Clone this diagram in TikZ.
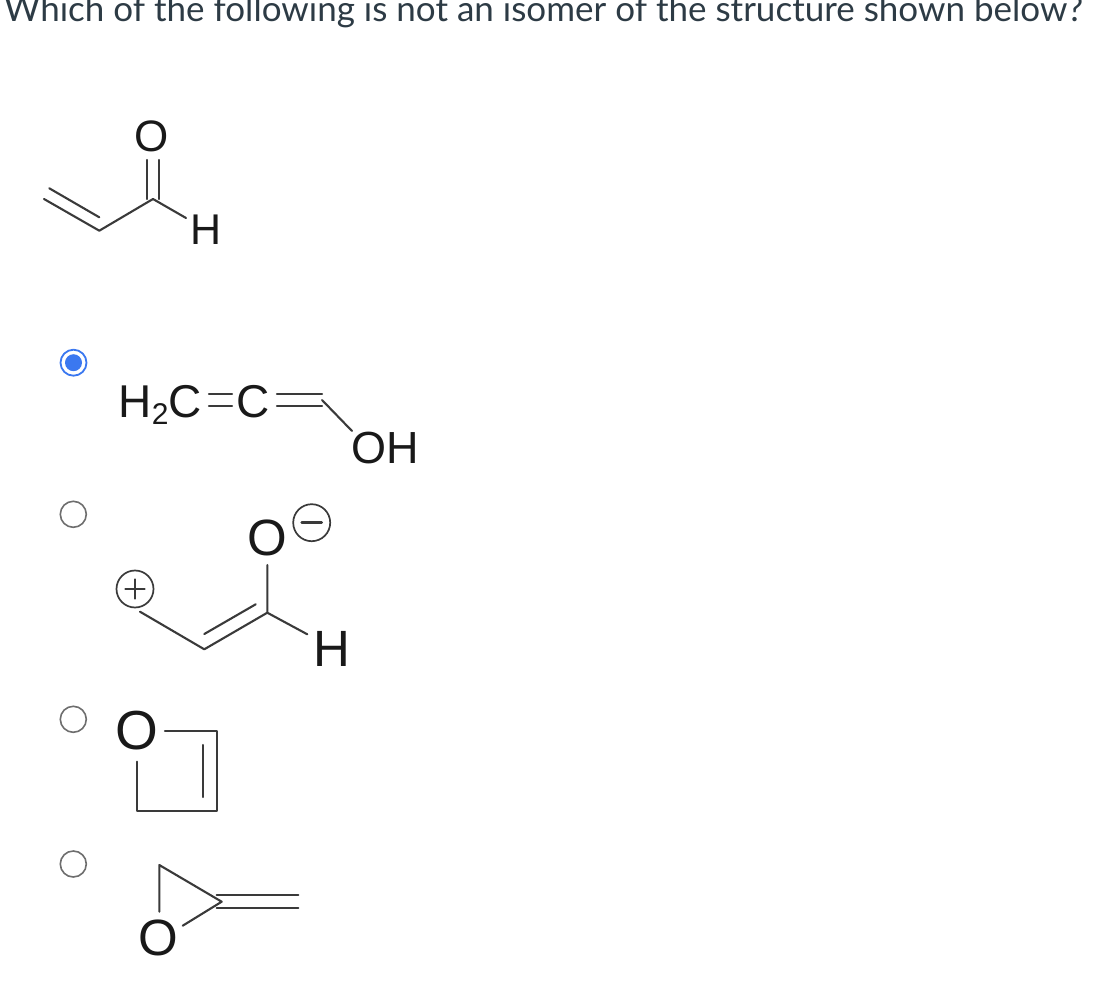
\documentclass[tikz,border=0pt]{standalone}
\usepackage{fontspec}
\setmainfont{Liberation Sans}
\newfontfamily\latofont{Lato}
\definecolor{titlecol}{HTML}{2D3B45}
\definecolor{bondcol}{HTML}{3A3A3A}
\definecolor{radiogray}{HTML}{6E6E6E}
\definecolor{radioblue}{HTML}{3B78F0}
\newcommand{\fsz}[1]{\fontsize{#1}{#1}\selectfont}
\tikzset{
  atom/.style={inner sep=0pt,text=black!90,font=\fsz{#1}},
  bond/.style={draw=bondcol,line width=2.1pt,line cap=round,line join=round},
  radiobtn/.style={circle,draw=radiogray,line width=1.6pt,minimum size=26pt,inner sep=0pt,fill=white},
  radiosel/.style={circle,draw=radioblue,line width=1.8pt,minimum size=26pt,inner sep=0pt,fill=white},
  radiodot/.style={circle,fill=radioblue,minimum size=17pt,inner sep=0pt},
  charge/.style={circle,draw=bondcol,line width=1.7pt,minimum size=37pt,inner sep=0pt}
}
\begin{document}
\begin{tikzpicture}[x=1pt,y=-1pt]
\useasboundingbox (0,0) rectangle (1114,984);
\node[anchor=base west,inner sep=0pt,text=titlecol,font=\latofont\fsz{35}] (title) at (4,22) {Which of the following is not an isomer of the structure shown below?};

% Reference structure
\node[atom=44] (o0) at (152,136) {O};
\node[atom=43] (h0) at (206,230) {H};
\coordinate (c0) at (153,199);
\coordinate (c0a) at (147.3,199);
\coordinate (c0b) at (158.7,199);
\coordinate (o0a) at (147.3,160);
\coordinate (o0b) at (158.7,160);
\coordinate (h0e) at (186,218);
\coordinate (c1) at (99.3,230.7);
\coordinate (c2) at (44,199);
\coordinate (c1i) at (99.3,217.3);
\coordinate (c2i) at (49.3,188.3);
\draw[bond] (o0a) -- (c0a);
\draw[bond] (o0b) -- (c0b);
\draw[bond] (c0) -- (h0e);
\draw[bond] (c0) -- (c1) -- (c2);
\draw[bond] (c1i) -- (c2i);

% Option 1
\node[radiosel] (r1) at (73.5,362.7) {};
\node[radiodot] (r1d) at (73.5,362.7) {};
\node[atom=46,anchor=base east] (a1) at (202,417) {H\raisebox{-7pt}{\fsz{30}2}C};
\node[atom=46,anchor=base] (a2) at (253,417) {C};
\node[atom=45,anchor=base] (oh) at (385,463) {OH};
\coordinate (b1a) at (209,394);
\coordinate (b1b) at (232,394);
\coordinate (b1c) at (209,405.7);
\coordinate (b1d) at (232,405.7);
\coordinate (b2a) at (277,394);
\coordinate (b2b) at (322,394);
\coordinate (b2c) at (277,405.7);
\coordinate (b2d) at (322,405.7);
\coordinate (v2) at (322,400);
\coordinate (v2e) at (352,431);
\draw[bond] (b1a) -- (b1b);
\draw[bond] (b1c) -- (b1d);
\draw[bond] (b2a) -- (b2b);
\draw[bond] (b2c) -- (b2d);
\draw[bond] (v2) -- (v2e);

% Option 2
\node[radiobtn] (r2) at (73.3,514.3) {};
\node[atom=51] (o2) at (267,537.7) {O};
\node[atom=51] (h2) at (331.7,649.3) {H};
\node[charge] (minus) at (311.7,522.7) {};
\node[charge] (plus) at (135,589) {};
\coordinate (mL) at (301.7,522.7);
\coordinate (mR) at (321.7,522.7);
\coordinate (pL) at (125.5,589);
\coordinate (pR) at (144.5,589);
\coordinate (pT) at (135,579.5);
\coordinate (pB) at (135,598.5);
\draw[bond,line width=2.6pt] (mL) -- (mR);
\draw[bond,line width=2.6pt] (pL) -- (pR);
\draw[bond,line width=2.6pt] (pT) -- (pB);
\coordinate (s1) at (140,611.7);
\coordinate (s2) at (204.3,649.3);
\coordinate (s3) at (267.3,612.7);
\coordinate (s2i) at (204.3,634);
\coordinate (s3i) at (255.7,604.3);
\coordinate (s4) at (267.3,565);
\coordinate (s5) at (307.3,634.3);
\draw[bond] (s1) -- (s2) -- (s3);
\draw[bond] (s2i) -- (s3i);
\draw[bond] (s4) -- (s3) -- (s5);

% Option 3
\node[radiobtn] (r3) at (73.3,719.3) {};
\node[atom=55] (o3) at (137.3,731) {O};
\coordinate (q1) at (165,730.7);
\coordinate (q2) at (217.3,730.7);
\coordinate (q3) at (217.3,810.7);
\coordinate (q4) at (137.3,810.7);
\coordinate (q5) at (137.3,761.7);
\coordinate (q6) at (203,745);
\coordinate (q7) at (203,797);
\draw[bond] (q1) -- (q2) -- (q3) -- (q4) -- (q5);
\draw[bond] (q6) -- (q7);

% Option 4
\node[radiobtn] (r4) at (73.3,864) {};
\node[atom=51] (o4) at (158.3,938.3) {O};
\coordinate (t1) at (159.3,911.7);
\coordinate (t2) at (159.3,865);
\coordinate (t3) at (221.7,901.7);
\coordinate (t4) at (182.7,925.7);
\coordinate (d1) at (216.7,895);
\coordinate (d2) at (298.3,895);
\coordinate (d3) at (216.7,908.3);
\coordinate (d4) at (298.3,908.3);
\draw[bond] (t1) -- (t2) -- (t3) -- (t4);
\draw[bond] (d1) -- (d2);
\draw[bond] (d3) -- (d4);
\end{tikzpicture}
\end{document}
